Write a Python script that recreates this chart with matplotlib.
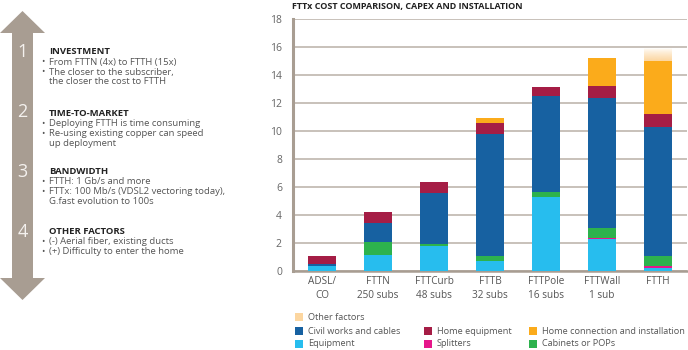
import matplotlib
matplotlib.use("Agg")
import matplotlib.pyplot as plt
import numpy as np
from matplotlib.patches import Polygon, Rectangle

plt.rcParams['font.family'] = ['Open Sans', 'DejaVu Sans']

categories = ["ADSL/\nCO", "FTTN\n250 subs", "FTTCurb\n48 subs", "FTTB\n32 subs",
              "FTTPole\n16 subs", "FTTWall\n1 sub", "FTTH"]
equipment = [0.36, 1.12, 1.79, 0.71, 5.29, 2.24, 0.22]
splitters = [0.0, 0.0, 0.0, 0.0, 0.0, 0.12, 0.12]
cabinets = [0.0, 0.95, 0.14, 0.34, 0.35, 0.71, 0.73]
civil = [0.09, 1.36, 3.64, 8.71, 6.84, 9.24, 9.22]
home_equipment = [0.58, 0.74, 0.74, 0.81, 0.66, 0.88, 0.88]
home_connection = [0.0, 0.0, 0.0, 0.31, 0.0, 2.02, 3.83]
other_factors = [0.0, 0.0, 0.0, 0.0, 0.0, 0.0, 0.9]
yticks = [0, 2, 4, 6, 8, 10, 12, 14, 16, 18]

series = [
    ("Equipment", equipment, "#27bdee"),
    ("Splitters", splitters, "#e6168b"),
    ("Cabinets or POPs", cabinets, "#2db24d"),
    ("Civil works and cables", civil, "#1761a1"),
    ("Home equipment", home_equipment, "#a51d45"),
    ("Home connection and installation", home_connection, "#fbab1b"),
]
other_color = "#fcd6a0"

W, H = 688, 350
fig = plt.figure(figsize=(W / 100, H / 100), dpi=100)

# Overlay axes in pixel coordinates for the left panel and legend
ov = fig.add_axes([0, 0, 1, 1])
ov.set_xlim(0, W)
ov.set_ylim(H, 0)
ov.axis("off")

arrow_c = "#a89d92"
arrow = Polygon([(22.5, 11), (45, 33), (33, 33), (33, 278), (45, 278), (22.5, 300),
                 (0, 278), (12, 278), (12, 33), (0, 33)], closed=True,
                facecolor=arrow_c, edgecolor="none")
ov.add_patch(arrow)
for i, yy in enumerate([52, 112, 172, 232]):
    ov.text(22.5, yy, str(i + 1), color="#f4f1ee", fontsize=13, ha="center", va="center")

txt_c = "#555555"
blocks = [
    (52, "INVESTMENT", [("•", "From FTTN (4x) to FTTH (15x)"),
                        ("•", "The closer to the subscriber,"),
                        ("", "the closer the cost to FTTH")]),
    (113, "TIME-TO-MARKET", [("•", "Deploying FTTH is time consuming"),
                             ("•", "Re-using existing copper can speed"),
                             ("", "up deployment")]),
    (172, "BANDWIDTH", [("•", "FTTH: 1 Gb/s and more"),
                        ("•", "FTTx: 100 Mb/s (VDSL2 vectoring today),"),
                        ("", "G.fast evolution to 100s")]),
    (232, "OTHER FACTORS", [("•", "(-) Aerial fiber, existing ducts"),
                            ("•", "(+) Difficulty to enter the home")]),
]
for y0, head, lines in blocks:
    ov.text(49, y0, head, fontsize=6.8, fontweight="bold", color="#222222", va="center", ha="left")
    for j, (b, t) in enumerate(lines):
        yy = y0 + 10 * (j + 1)
        if b:
            ov.text(41, yy, b, fontsize=6.5, color=txt_c, va="center", ha="left")
        ov.text(49, yy, t, fontsize=6.8, color=txt_c, va="center", ha="left")

# Title
ov.text(292, 6, "FTTx COST COMPARISON, CAPEX AND INSTALLATION", fontsize=6.5,
        fontweight="bold", color="#222222", va="center", ha="left")

# Legend (manual)
leg = [
    (295, 317, "Other factors", other_color),
    (295, 331, "Civil works and cables", series[3][2]),
    (295, 344, "Equipment", series[0][2]),
    (424, 331, "Home equipment", series[4][2]),
    (424, 344, "Splitters", series[1][2]),
    (529, 331, "Home connection and installation", series[5][2]),
    (529, 344, "Cabinets or POPs", series[2][2]),
]
for lx, ly, lab, col in leg:
    ov.add_patch(Rectangle((lx, ly - 4), 8, 8, facecolor=col, edgecolor="none"))
    ov.text(lx + 13, ly, lab, fontsize=6.6, color=txt_c, va="center", ha="left")

# Chart axes
ax = fig.add_axes([293 / W, 1 - 270.7 / H, (687 - 293) / W, (270.7 - 18.7) / H])
ax.set_facecolor("none")
x = np.arange(len(categories))
bottom = np.zeros(len(categories))
for name, vals, col in series:
    vals = np.array(vals)
    ax.bar(x, vals, width=0.5, bottom=bottom, color=col, zorder=3, linewidth=0)
    bottom += vals

# Other factors with fade
of = np.array(other_factors)
bars = ax.bar(x, of, width=0.5, bottom=bottom, color="none", linewidth=0, zorder=3)
rgb = np.array(matplotlib.colors.to_rgb(other_color))
for b, v in zip(bars, of):
    if v <= 0:
        continue
    x0, y0 = b.get_x(), b.get_y()
    w, h = b.get_width(), b.get_height()
    n = 64
    grad = np.ones((n, 2, 4))
    alpha = np.linspace(1.0, 0.0, n) ** 0.8
    grad[:, :, :3] = rgb
    grad[:, :, 3] = alpha[:, None]
    im = ax.imshow(grad, extent=[x0, x0 + w, y0, y0 + h], origin="lower",
                   aspect="auto", zorder=3, interpolation="bilinear")
    im.set_clip_path(b)

ax.set_xlim(-0.52, 6.52)
ax.set_ylim(0, 18)
ax.set_yticks(yticks)
ax.set_xticks(x)
ax.set_xticklabels(categories, fontsize=7.2, color=txt_c, linespacing=1.3)
ax.tick_params(axis="y", labelsize=7.5, labelcolor="#666666", length=0, pad=8)
ax.tick_params(axis="x", length=0, pad=4)
ax.grid(axis="y", color="#b9b0a7", linewidth=1.1, zorder=0)
ax.set_axisbelow(True)
for s in ["top", "right"]:
    ax.spines[s].set_visible(False)
ax.spines["left"].set_color("#a89d92")
ax.spines["left"].set_linewidth(2.2)
ax.spines["bottom"].set_color("#a89d92")
ax.spines["bottom"].set_linewidth(1.8)

fig.savefig("out.png", dpi=100)
